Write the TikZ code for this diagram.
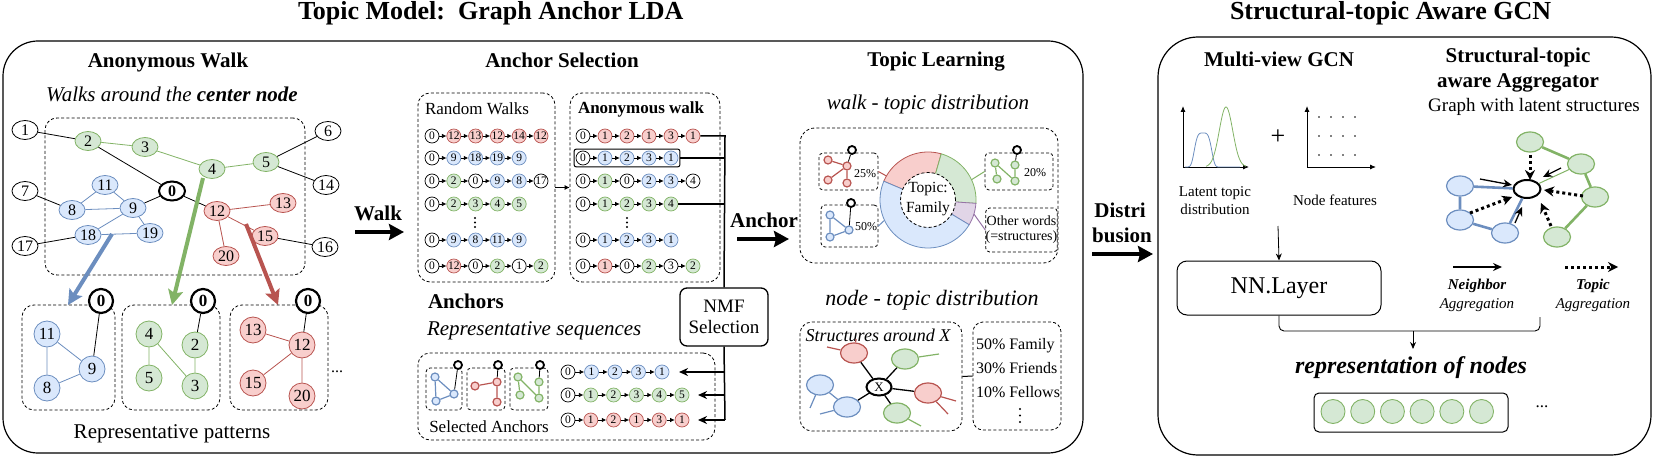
\documentclass[tikz,border=0pt]{standalone}
\usepackage{fontspec}
\setmainfont{Liberation Serif}
\usetikzlibrary{arrows.meta,shapes.geometric,fit}
\definecolor{gF}{HTML}{D5E8D4}\definecolor{gD}{HTML}{82B366}
\definecolor{bF}{HTML}{DAE8FC}\definecolor{bD}{HTML}{6C8EBF}
\definecolor{rF}{HTML}{F8CECC}\definecolor{rD}{HTML}{B85450}
\definecolor{pF}{HTML}{E1D5E7}\definecolor{pD}{HTML}{9673A6}
\newcommand{\fs}[1]{\fontsize{#1}{#1}\selectfont}
\tikzset{
  txt/.style={inner sep=0pt, outer sep=0pt},
  ttl/.style={txt, font=\fs{21}\bfseries, anchor=base},
  dbox/.style={draw, dash pattern=on 3pt off 2.2pt, line width=0.8pt, rounded corners=12pt, inner sep=0pt},
  sbox/.style={draw, dash pattern=on 3pt off 2.2pt, line width=0.8pt, rounded corners=4pt, inner sep=0pt},
  en/.style={ellipse, inner sep=0pt, minimum width=26, minimum height=19, line width=0.8pt, font=\fs{16}},
  eg/.style={en, draw=gD, fill=gF},
  eb/.style={en, draw=bD, fill=bF},
  er/.style={en, draw=rD, fill=rF},
  ew/.style={en, draw=black, fill=white},
  ez/.style={en, draw=black, fill=white, line width=2pt, font=\fs{16}\bfseries},
  cn/.style={circle, inner sep=0pt, minimum size=26, line width=0.8pt, font=\fs{17}},
  cg/.style={cn, draw=gD, fill=gF},
  cb/.style={cn, draw=bD, fill=bF},
  cr/.style={cn, draw=rD, fill=rF},
  cz/.style={cn, minimum size=24, draw=black, fill=white, line width=2.2pt, font=\fs{17}\bfseries},
  wn/.style={circle, inner sep=0pt, minimum size=14, line width=0.7pt, font=\fs{11.5}},
  wnw/.style={wn, draw=black, fill=white},
  wnr/.style={wn, draw=rD, fill=rF},
  wng/.style={wn, draw=gD, fill=gF},
  wnb/.style={wn, draw=bD, fill=bF},
  warr/.style={-{Latex[length=4.5pt,width=4.5pt]}, line width=0.7pt},
  mn/.style={circle, inner sep=0pt, minimum size=8, line width=1.2pt},
  mg/.style={mn, draw=gD, fill=gF},
  mb/.style={mn, draw=bD, fill=bF},
  mr/.style={mn, draw=rD, fill=rF},
  mo/.style={circle, inner sep=0pt, minimum size=8, line width=1.8pt, draw=black, fill=white},
  sn/.style={ellipse, inner sep=0pt, minimum width=27, minimum height=20, line width=1.2pt},
  sg/.style={sn, draw=gD, fill=gF},
  sb/.style={sn, draw=bD, fill=bF},
  sr/.style={sn, draw=rD, fill=rF},
  dotn/.style={circle, fill=black, inner sep=0pt, minimum size=2.2pt},
  big/.style={-{Stealth[length=15pt,width=15pt,inset=3pt]}, line width=4pt},
  bar/.style={-{Stealth[length=15pt,width=16pt,inset=2pt]}, line width=3.5pt},
  sarr/.style={-{Stealth[length=9pt,width=8pt]}, line width=1.3pt},
  darr/.style={-{Stealth[length=10pt,width=10pt]}, line width=3pt, dash pattern=on 3pt off 3pt},
}
\newcommand{\wrow}[5]{%
  \foreach \lab/\col [count=\i] in {#5} {
    \node[wn\col] (#1-\i) at ({#2+(\i-1)*#4},#3) {\lab};
    \ifnum\i>1
      \pgfmathtruncatemacro\j{\i-1}
      \draw[warr] (#1-\j) -- (#1-\i);
    \fi
  }%
}
\newcommand{\vdts}[4]{% name, x, y top, step
  \foreach \d in {0,1,2} \node[dotn] (#1\d) at (#2,{#3+\d*#4}) {};%
}
\newcommand{\seg}[4]{\filldraw[fill=#3, draw=#4, line width=0.8pt] plot[domain=#1:#2, samples=40] ({928+48*cos(\x)},{200-48*sin(\x)}) -- plot[domain=#2:#1, samples=40] ({928+27*cos(\x)},{200-27*sin(\x)}) -- cycle;}
\begin{document}
\begin{tikzpicture}[x=1pt,y=-1pt]
\useasboundingbox (0,0) rectangle (1654,457);
% ---------- main titles
\node[txt, font=\fs{26}\bfseries, anchor=base west] (title1) at (298,20) {Topic Model:\ \ Graph Anchor LDA};
\node[txt, font=\fs{26}\bfseries, anchor=base west] (title2) at (1230,20) {Structural-topic Aware GCN};
% ---------- big frames
\draw[line width=1.2pt, rounded corners=35pt] (3,41) rectangle (1083,453);
\draw[line width=1.2pt, rounded corners=40pt] (1158,37) rectangle (1651,455);

% ================= Anonymous walk
\node[ttl] (t-aw) at (168,68) {Anonymous Walk};
\node[txt, anchor=base, font=\fs{21}\itshape] (t-walks) at (172,102) {Walks around the \textbf{center node}};
\node[dbox, minimum width=260, minimum height=157] (gbox) at (175,196.5) {};
\node[ew] (g1) at (25,130) {1};
\node[eg] (g2) at (88,141) {2};
\node[eg] (g3) at (145,147) {3};
\node[eg] (g4) at (212,169) {4};
\node[eg] (g5) at (266,162) {5};
\node[ew] (g6) at (328,131) {6};
\node[ew] (g14) at (326,185) {14};
\node[ez] (g0) at (172,191) {0};
\node[ew] (g7) at (25,191) {7};
\node[eb] (g11) at (105,185) {11};
\node[eb] (g8) at (72,210) {8};
\node[eb] (g9) at (133,208) {9};
\node[er] (g12) at (217,211) {12};
\node[er] (g13) at (283,203) {13};
\node[eb] (g18) at (88,235) {18};
\node[eb] (g19) at (150,233) {19};
\node[er] (g15) at (265,236) {15};
\node[er] (g20) at (226,256) {20};
\node[ew] (g16) at (325,247) {16};
\node[ew] (g17) at (25,246) {17};
\draw[line width=0.8pt] (g1)--(g2) (g2)--(g0) (g5)--(g6) (g5)--(g14) (g0)--(g9) (g0)--(g12) (g7)--(g8) (g17)--(g18) (g15)--(g16);
\draw[gD, line width=0.8pt] (g2)--(g3)--(g4)--(g5);
\draw[bD, line width=0.8pt] (g8)--(g11)--(g9)--(g8) (g9)--(g18) (g9)--(g19) (g18)--(g19);
\draw[rD, line width=0.8pt] (g12)--(g13) (g12)--(g15) (g12)--(g20);
\coordinate (ab1) at (112,234); \coordinate (ab2) at (68,305);
\coordinate (ag1) at (203,178); \coordinate (ag2) at (172,305);
\coordinate (ar1) at (246,224); \coordinate (ar2) at (278,305);
\draw[big, bD] (ab1) -- (ab2);
\draw[big, gD] (ag1) -- (ag2);
\draw[big, rD] (ar1) -- (ar2);
% patterns
\node[dbox, minimum width=93, minimum height=105] (pb1) at (68.5,357.5) {};
\node[dbox, minimum width=98, minimum height=105] (pb2) at (171,357.5) {};
\node[dbox, minimum width=98, minimum height=105] (pb3) at (279,357.5) {};
\node[cz] (p1z) at (101,301) {0};
\node[cb] (p1a) at (47,334) {11};
\node[cb] (p1b) at (92,369) {9};
\node[cb] (p1c) at (47,388) {8};
\draw[line width=0.8pt] (p1z)--(p1b);
\draw[bD, line width=0.8pt] (p1a)--(p1b)--(p1c)--(p1a);
\node[cz] (p2z) at (203,301) {0};
\node[cg] (p2a) at (149,334) {4};
\node[cg] (p2b) at (149,378) {5};
\node[cg] (p2c) at (195,345) {2};
\node[cg] (p2d) at (195,386) {3};
\draw[line width=0.8pt] (p2z)--(p2c);
\draw[gD, line width=0.8pt] (p2a)--(p2b) (p2a)--(p2d) (p2c)--(p2d);
\node[cz] (p3z) at (308,301) {0};
\node[cr] (p3a) at (253,330) {13};
\node[cr] (p3b) at (302,345) {12};
\node[cr] (p3c) at (253,383) {15};
\node[cr] (p3d) at (302,396) {20};
\draw[line width=0.8pt] (p3z)--(p3b);
\draw[rD, line width=0.8pt] (p3a)--(p3b) (p3b)--(p3c) (p3b)--(p3d);
\node[txt, font=\fs{16}] (pdots) at (337,372) {...};
\node[txt, anchor=base, font=\fs{21}] (t-rp) at (172,438) {Representative patterns};

% walk arrow
\node[txt, anchor=base, font=\fs{21}\bfseries] (t-walk) at (378,220) {Walk};
\coordinate (wa1) at (355,232); \coordinate (wa2) at (404,232);
\draw[bar] (wa1) -- (wa2);

% ================= Anchor selection
\node[ttl] (t-as) at (562,68) {Anchor Selection};
\node[dbox, minimum width=137, minimum height=189] (rwbox) at (486.5,187.5) {};
\node[dbox, minimum width=150, minimum height=189] (awbox) at (645,187.5) {};
\node[txt, anchor=base west, font=\fs{17}] (t-rw) at (425,115) {Random Walks};
\node[txt, anchor=base west, font=\fs{17}\bfseries] (t-anw) at (578,114) {Anonymous walk};
\wrow{r1}{432}{136}{21.8}{0/w,12/r,13/r,12/r,14/r,12/r}
\wrow{r2}{432}{158}{21.8}{0/w,9/b,18/b,19/b,9/b}
\wrow{r3}{432}{181}{21.8}{0/w,2/g,0/w,9/b,8/b,17/w}
\wrow{r4}{432}{204}{21.8}{0/w,2/g,3/g,4/g,5/g}
\wrow{r5}{432}{240}{21.8}{0/w,9/b,8/b,11/b,9/b}
\wrow{r6}{432}{266}{21.8}{0/w,12/r,0/w,2/g,1/w,2/g}
\vdts{rd}{475}{218}{4.5}
\wrow{a1}{583}{136}{22}{0/w,1/r,2/r,1/r,3/r,1/r}
\wrow{a2}{583}{158}{22}{0/w,1/b,2/b,3/b,1/b}
\wrow{a3}{583}{181}{22}{0/w,1/g,0/w,2/b,3/b,4/w}
\wrow{a4}{583}{204}{22}{0/w,1/g,2/g,3/g,4/g}
\wrow{a5}{583}{240}{22}{0/w,1/b,2/b,3/b,1/b}
\wrow{a6}{583}{266}{22}{0/w,1/r,0/w,2/g,3/w,2/g}
\vdts{ad}{627}{218}{4.5}
\node[draw, line width=1pt, rounded corners=2pt, fit=(a2-1)(a2-5), inner sep=1.5pt] (a2box) {};
\draw[-{Latex[length=5pt,width=5pt]}, line width=0.8pt] (rwbox.east) -- (awbox.west);
% NMF
\node[draw, line width=1.3pt, rounded corners=7pt, minimum width=88, minimum height=58, align=center, font=\fs{19}, inner sep=0pt] (nmf) at (724,317) {NMF\\[2pt]Selection};
\coordinate (bus1) at (725,136);
\coordinate (bus2) at (725,158);
\coordinate (bus4) at (725,204);
\coordinate (bus5) at (725,372);
\coordinate (bus6) at (725,395);
\coordinate (bus7) at (725,420);
\draw[line width=1.5pt] (a1-6.east) -- (bus1) -- (nmf.north);
\draw[line width=1.5pt] (a2box.east) -- (bus2);
\draw[line width=1.5pt] (a4-5.east) -- (bus4);
\draw[line width=1.5pt] (nmf.south) -- (bus7);
\node[txt, anchor=base west, font=\fs{21}\bfseries] (t-anc) at (428,308) {Anchors};
\node[txt, anchor=base west, font=\fs{21}\itshape] (t-rs) at (427,335) {Representative sequences};
\node[dbox, minimum width=297, minimum height=87] (selbox) at (566.5,396.5) {};
\wrow{s1}{568}{372}{23.5}{0/w,1/b,2/b,3/b,1/b}
\wrow{s2}{568}{395}{22.8}{0/w,1/g,2/g,3/g,4/g,5/g}
\wrow{s3}{568}{420}{22.8}{0/w,1/r,2/r,1/r,3/r,1/r}
\coordinate (t1) at (679,372); \coordinate (t2) at (698,395); \coordinate (t3) at (698,420);
\draw[-{Stealth[length=9pt,width=8pt]}, line width=1.5pt] (bus5) -- (t1);
\draw[-{Stealth[length=9pt,width=8pt]}, line width=1.5pt] (bus6) -- (t2);
\draw[-{Stealth[length=9pt,width=8pt]}, line width=1.5pt] (bus7) -- (t3);
% mini anchors
\node[sbox, minimum width=36, minimum height=42] (ma) at (444,389) {};
\node[sbox, minimum width=38, minimum height=42] (mbx) at (486,389) {};
\node[sbox, minimum width=38, minimum height=42] (mc) at (529,389) {};
\node[mb] (ma1) at (435,377) {};
\node[mb] (ma2) at (436,401) {};
\node[mb] (ma3) at (454,394) {};
\node[mo] (mao) at (458,365) {};
\draw[line width=0.8pt] (mao)--(ma3);
\draw[bD, line width=1.2pt] (ma1)--(ma2)--(ma3)--(ma1);
\node[mr] (mb1) at (475,386) {};
\node[mr] (mb2) at (497,382) {};
\node[mr] (mb3) at (497,402) {};
\node[mo] (mbo) at (498,365) {};
\draw[line width=0.8pt] (mbo)--(mb2);
\draw[rD, line width=1.2pt] (mb1)--(mb2)--(mb3);
\node[mg] (mc1) at (518,377) {};
\node[mg] (mc2) at (520,395) {};
\node[mg] (mc3) at (539,382) {};
\node[mg] (mc4) at (539,398) {};
\node[mo] (mco) at (540,365) {};
\draw[line width=0.8pt] (mco)--(mc3);
\draw[gD, line width=1.2pt] (mc1)--(mc2) (mc1)--(mc4) (mc3)--(mc4);
\node[txt, anchor=base, font=\fs{17}] (t-sa) at (489,432) {Selected Anchors};

% anchor arrow
\node[txt, anchor=base, font=\fs{21}\bfseries] (t-anchor) at (764,228) {Anchor};
\coordinate (an1) at (737,239); \coordinate (an2) at (789,239);
\draw[bar] (an1) -- (an2);

% ================= Topic learning
\node[ttl] (t-tl) at (936,67) {Topic Learning};
\node[txt, anchor=base, font=\fs{21}\itshape] (t-wtd) at (928,110) {walk - topic distribution};
\node[dbox, minimum width=258, minimum height=135, rounded corners=15pt] (wtbox) at (929,195.5) {};
\seg{74}{157}{rF}{rD}
\seg{-4}{74}{gF}{gD}
\seg{-31}{-4}{pF}{pD}
\seg{157}{329}{bF}{bD}
\node[circle, draw, dash pattern=on 3pt off 2.2pt, line width=0.8pt, fill=white, minimum size=55, inner sep=0pt] (donut) at (928,200) {};
\node[txt, align=center, font=\fontsize{15.5}{20}\selectfont] (t-fam) at (928,199) {Topic:\\Family};
\coordinate (dr) at ({928+48*cos(150)},{200-48*sin(150)});
\coordinate (db) at ({928+48*cos(205)},{200-48*sin(205)});
\coordinate (dg) at ({928+48*cos(25)},{200-48*sin(25)});
\coordinate (dp) at ({928+48*cos(-17)},{200-48*sin(-17)});
% red 25%
\node[sbox, minimum width=59, minimum height=37] (k1) at (848.5,171.5) {};
\node[mr] (k1c) at (847,166) {};
\node[mr] (k1a) at (828,160) {};
\node[mr] (k1b) at (828,180) {};
\node[mr] (k1d) at (847,183) {};
\node[mo] (k1o) at (852,150) {};
\draw[line width=0.8pt] (k1o)--(k1c);
\draw[rD, line width=1.2pt] (k1c)--(k1a) (k1c)--(k1b) (k1c)--(k1d);
\node[txt, font=\fs{12}] (k1t) at (865,174) {25\%};
\draw[rD, line width=1pt] (k1.east) -- (dr);
% blue 50%
\node[sbox, minimum width=57, minimum height=42] (k2) at (849.5,226) {};
\node[mb] (k2a) at (830,215) {};
\node[mb] (k2b) at (830,237) {};
\node[mb] (k2c) at (849,230) {};
\node[mo] (k2o) at (851,203) {};
\draw[line width=0.8pt] (k2o)--(k2c);
\draw[bD, line width=1.2pt] (k2a)--(k2b)--(k2c)--(k2a);
\node[txt, font=\fs{12}] (k2t) at (866,227) {50\%};
\draw[bD, line width=1pt] (k2.east) -- (db);
% green 20%
\node[sbox, minimum width=68, minimum height=37] (k3) at (1019,171.5) {};
\node[mg] (k3a) at (995,163) {};
\node[mg] (k3b) at (997,179) {};
\node[mg] (k3c) at (1015,165) {};
\node[mg] (k3d) at (1015,181) {};
\node[mo] (k3o) at (1017,150) {};
\draw[line width=0.8pt] (k3o)--(k3c);
\draw[gD, line width=1.2pt] (k3a)--(k3b) (k3a)--(k3d) (k3c)--(k3d);
\node[txt, font=\fs{12}] (k3t) at (1035,173) {20\%};
\draw[gD, line width=1pt] (dg) -- (k3.west);
% other words
\node[sbox, minimum width=69, minimum height=44, align=center, font=\fontsize{14}{15}\selectfont] (k4) at (1021.5,230) {Other words\\(=structures)};
\draw[pD, line width=1pt] (dp) -- (k4.west);

% node topic distribution
\node[txt, anchor=base, font=\fs{22}\itshape] (t-ntd) at (932,305) {node - topic distribution};
\node[dbox, minimum width=162, minimum height=109] (stbox) at (881,376.5) {};
\node[txt, anchor=base, font=\fs{18}\itshape] (t-sx) at (878,341) {Structures around X};
\node[ellipse, draw, line width=2pt, fill=white, minimum width=25, minimum height=17, inner sep=0pt, font=\fs{13}] (X) at (879,387) {X};
\node[sr] (S1) at (854,353) {};
\node[sg] (S2) at (905,359) {};
\node[sr] (S3) at (928,393) {};
\node[sg] (S4) at (897,413) {};
\node[sb] (S5) at (847,407) {};
\node[sb] (S6) at (820,385) {};
\draw[line width=1.3pt] (X)--(S1) (X)--(S2) (X)--(S3) (X)--(S4) (X)--(S5);
\coordinate (e1) at (856,339); \coordinate (e2) at (827,347);
\coordinate (e3) at (939,354); \coordinate (e4) at (956,401);
\coordinate (e5) at (948,414); \coordinate (e6) at (921,426);
\coordinate (e7) at (820,414); \coordinate (e8) at (810,408);
\draw[rD, line width=1.2pt] (S1)--(e1) (S1)--(e2) (S3)--(e4) (S3)--(e5);
\draw[gD, line width=1.2pt] (S2)--(e3) (S4)--(e6);
\draw[bD, line width=1.2pt] (S5)--(e7) (S6)--(e8) (S6)--(S5);
\node[sbox, minimum width=88, minimum height=108, rounded corners=10pt] (pcbox) at (1017,376) {};
\node[txt, anchor=base west, font=\fs{16}] (pct1) at (976,349) {50\% Family};
\node[txt, anchor=base west, font=\fs{16}] (pct2) at (976,373) {30\% Friends};
\node[txt, anchor=base west, font=\fs{16}] (pct3) at (976,397) {10\% Fellows};
\vdts{pd}{1020}{409}{6.5}
\draw[line width=1pt] (stbox.east) -- (pcbox.west);

% ================= distribution arrow
\node[txt, anchor=base, font=\fs{21}\bfseries] (t-dis) at (1120,218) {Distri};
\node[txt, anchor=base, font=\fs{21}\bfseries] (t-bus) at (1122,242) {busion};
\coordinate (di1) at (1092,254); \coordinate (di2) at (1153,254);
\draw[bar] (di1) -- (di2);

% ================= Structural-topic aware GCN
\node[ttl] (t-mv) at (1279,67) {Multi-view GCN};
\node[txt, font=\fontsize{21}{25}\selectfont\bfseries, align=center] (t-sta) at (1518,70) {Structural-topic\\aware Aggregator};
\node[txt, anchor=base, font=\fs{19}] (t-gls) at (1534,112) {Graph with latent structures};
% chart 1
\coordinate (c1o) at (1183,167); \coordinate (c1y) at (1183,106); \coordinate (c1x) at (1249,167);
\draw[-{Latex[length=6pt,width=5pt]}, line width=0.9pt] (c1o) -- (c1y);
\draw[-{Latex[length=6pt,width=5pt]}, line width=0.9pt] (c1o) -- (c1x);
\draw[bD, line width=0.8pt] plot[domain=1185:1240, samples=60] (\x,{167-34*exp(-((\x-1203)/9.5)^4)});
\draw[gD, line width=0.8pt] plot[domain=1206:1246, samples=60] (\x,{167-60*exp(-((\x-1226)/9.5)^2)});
\node[txt, align=center, font=\fontsize{15}{18}\selectfont] (t-ltd) at (1215,201) {Latent topic\\distribution};
\node[txt, font=\fs{26}] (plus) at (1278,137) {+};
% chart 2
\coordinate (c2o) at (1307,167); \coordinate (c2y) at (1307,106); \coordinate (c2x) at (1376,167);
\draw[-{Latex[length=6pt,width=5pt]}, line width=0.9pt] (c2o) -- (c2y);
\draw[-{Latex[length=6pt,width=5pt]}, line width=0.9pt] (c2o) -- (c2x);
\foreach \yy in {117,136,155} \foreach \xx in {1319,1331,1343,1355} \fill (\xx,\yy) circle (0.8);
\node[txt, font=\fs{15}] (t-nf) at (1335,200) {Node features};
% NN layer
\node[draw, line width=1pt, rounded corners=10pt, minimum width=204, minimum height=54, font=\fs{24}, inner sep=0pt] (nn) at (1279,288) {NN.Layer};
\coordinate (nnin) at (1278,226);
\draw[-{Stealth[length=7pt,width=6pt]}, line width=0.8pt] (nnin) -- (nn.north);
% legend
\coordinate (lg1) at (1453,267); \coordinate (lg2) at (1502,267);
\draw[sarr] (lg1) -- (lg2);
\node[txt, anchor=base, font=\fs{15}\bfseries\itshape] (t-nb) at (1477,289) {Neighbor};
\node[txt, anchor=base, font=\fs{15}\itshape] (t-nba) at (1477,308) {Aggregation};
\coordinate (lg3) at (1565,267); \coordinate (lg4) at (1618,267);
\draw[darr] (lg3) -- (lg4);
\node[txt, anchor=base, font=\fs{15}\bfseries\itshape] (t-tp) at (1593,289) {Topic};
\node[txt, anchor=base, font=\fs{15}\itshape] (t-tpa) at (1593,308) {Aggregation};
% bracket
\coordinate (br1) at (1540,317); \coordinate (brm) at (1413,331); \coordinate (brt) at (1413,349);
\draw[line width=0.9pt, rounded corners=5pt] (nn.south) -- (1279,331) -- (1540,331) -- (br1);
\draw[-{Stealth[length=7pt,width=6pt]}, line width=0.9pt] (brm) -- (brt);
\node[txt, anchor=base, font=\fs{24}\bfseries\itshape] (t-rep) at (1411,373) {representation of nodes};
\node[draw, line width=1pt, rounded corners=5pt, minimum width=194, minimum height=39, inner sep=0pt] (nbar) at (1411,412.5) {};
\foreach \k in {0,...,5} \node[circle, draw=gD, fill=gF, line width=0.9pt, minimum size=24, inner sep=0pt] (rn\k) at ({1333+29.7*\k},411.5) {};
\node[txt, font=\fs{17}] (t-rdots) at (1542,407) {...};
% right graph
\node[ellipse, draw, line width=2pt, fill=white, minimum width=27, minimum height=18, inner sep=0pt] (C) at (1527,189) {};
\node[sb] (B1) at (1460,186) {};
\node[sb] (B2) at (1460,220) {};
\node[sb] (B3) at (1505,233) {};
\node[sg] (G1) at (1530,142) {};
\node[sg] (G2) at (1581,164) {};
\node[sg] (G3) at (1595,197) {};
\node[sg] (G4) at (1557,237) {};
\draw[bD, line width=2.6pt] (B1)--(C) (B1)--(B2) (B2)--(B3) (B3)--(C);
\draw[gD, line width=2.6pt] (G1)--(G2) (G2)--(G3) (G3)--(G4);
\draw[gD, line width=1pt] (G2)--(C);
\coordinate (q1) at (1480,179); \coordinate (q2) at (1512,185);
\coordinate (q3) at (1561,168); \coordinate (q4) at (1543,177);
\coordinate (q5) at (1515,223); \coordinate (q6) at (1522,207);
\draw[sarr] (q1) -- (q2);
\draw[sarr] (q3) -- (q4);
\draw[sarr] (q5) -- (q6);
\coordinate (d1) at (1530,155); \coordinate (d2) at (1530,180);
\coordinate (d3) at (1470,213); \coordinate (d4) at (1512,197);
\coordinate (d5) at (1583,196); \coordinate (d6) at (1544,190);
\coordinate (d7) at (1551,226); \coordinate (d8) at (1541,203);
\draw[darr] (d1) -- (d2);
\draw[darr] (d3) -- (d4);
\draw[darr] (d5) -- (d6);
\draw[darr] (d7) -- (d8);
\end{tikzpicture}
\end{document}
